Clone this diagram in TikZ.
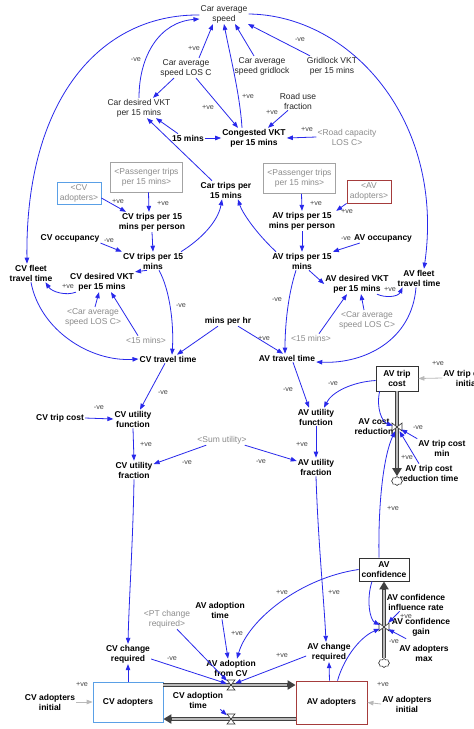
\documentclass[tikz,border=0pt]{standalone}
\usepackage{fontspec}
\setmainfont{Liberation Sans}
\usetikzlibrary{arrows.meta,shapes.symbols,calc}
\definecolor{lnkblue}{RGB}{40,40,235}
\definecolor{polgray}{RGB}{70,70,70}
\definecolor{shgray}{RGB}{140,140,140}
\definecolor{cvblue}{RGB}{90,160,230}
\definecolor{avred}{RGB}{165,60,60}
\newcommand\vfs{\fontsize{8.5}{10}\selectfont}
\newcommand\pfs{\fontsize{7.2}{8}\selectfont}
\newcommand\myvalveH[1]{\draw[vlv] ([xshift=-4pt,yshift=5pt]#1.center) -- ([xshift=4pt,yshift=5pt]#1.center) -- ([xshift=-4pt,yshift=-5pt]#1.center) -- ([xshift=4pt,yshift=-5pt]#1.center) -- cycle;}
\newcommand\myvalveV[1]{\draw[vlv] ([xshift=-5pt,yshift=4pt]#1.center) -- ([xshift=-5pt,yshift=-4pt]#1.center) -- ([xshift=5pt,yshift=4pt]#1.center) -- ([xshift=5pt,yshift=-4pt]#1.center) -- cycle;}
\begin{document}
\begin{tikzpicture}[x=1pt,y=-1pt,
 var/.style={align=center,font=\vfs,text=black!85,inner sep=1pt},
 varb/.style={align=center,font=\vfs\bfseries,text=black,inner sep=1pt},
 shd/.style={align=center,font=\vfs,text=shgray,inner sep=1pt},
 shdbox/.style={shd,draw=shgray!80,line width=0.8pt,minimum width=72pt,minimum height=30pt},
 stockbox/.style={varb,draw=black!80,line width=0.8pt,fill=white},
 lnk/.style={draw=lnkblue,line width=0.8pt,-{Triangle[length=6pt,width=4.5pt]}},
 glnk/.style={draw=gray!55,line width=0.8pt,-{Triangle[length=6pt,width=4.5pt]}},
 pol/.style={font=\pfs,text=polgray,inner sep=0pt},
 flowpipe/.style={line width=4.2pt,draw=black!75,-{Triangle[length=8pt,width=9pt]},postaction={draw=gray!55,line width=2.4pt,arrows=-,shorten >=8.5pt}},
 vlv/.style={draw=black!80,line width=0.6pt,fill=white},
 vnode/.style={minimum width=8pt,minimum height=8pt,inner sep=0pt},
 cloudnode/.style={cloud,draw=black!80,fill=white,cloud puffs=8,aspect=1.2,minimum width=11pt,minimum height=9pt,inner sep=0pt,line width=0.6pt}
]
\fill[white] (0,0) rectangle (474,729);
\useasboundingbox (0,0) rectangle (474,729);

% ---------- variables ----------
\node[var] (cas) at (224,14) {Car average\\speed};
\node[var] (caslos) at (186,68) {Car average\\speed LOS C};
\node[var] (casg) at (262,66) {Car average\\speed gridlock};
\node[var] (gvkt) at (332,66) {Gridlock VKT\\per 15 mins};
\node[var] (cdvkt) at (139,108) {Car desired VKT\\per 15 mins};
\node[var] (ruf) at (298,101) {Road use\\fraction};
\node[varb] (cong) at (254,138) {Congested VKT\\per 15 mins};
\node[varb] (m15) at (188,138) {15 mins};
\node[shd] (rcap) at (347,137) {<Road capacity\\LOS C>};
\node[shdbox] (ptl) at (146.5,177) {<Passenger trips\\per 15 mins>};
\node[shdbox] (ptr) at (299.5,178.5) {<Passenger trips\\per 15 mins>};
\node[varb] (ctrip) at (226,190) {Car trips per\\15 mins};
\node[shd,draw=avred,line width=0.8pt,minimum width=44pt,minimum height=23pt] (avad) at (369,191.5) {<AV\\adopters>};
\node[shd,draw=cvblue,line width=0.8pt,minimum width=44pt,minimum height=22pt] (cvad) at (79,193) {<CV\\adopters>};
\node[varb] (cvtpp) at (152,222) {CV trips per 15\\mins per person};
\node[varb] (cvocc) at (70,238) {CV occupancy};
\node[varb] (cvt) at (153,261) {CV trips per 15\\mins};
\node[varb] (cvflt) at (31,273) {CV fleet\\travel time};
\node[varb] (cvdv) at (102,282) {CV desired VKT\\per 15 mins};
\node[shd] (cslosl) at (93,317) {<Car average\\speed LOS C>};
\node[shd] (m15l) at (146,340) {<15 mins>};
\node[varb] (mph) at (228,321) {mins per hr};
\node[varb] (cvtt) at (168,359) {CV travel time};
\node[varb] (avtt) at (287,358) {AV travel time};
\node[varb] (avtpp) at (302,221) {AV trips per 15\\mins per person};
\node[varb] (avocc) at (383,238) {AV occupancy};
\node[varb] (avt) at (302,261) {AV trips per 15\\mins};
\node[varb] (avdv) at (357,284) {AV desired VKT\\per 15 mins};
\node[varb] (avflt) at (419,278) {AV fleet\\travel time};
\node[shd] (cslosr) at (367,320) {<Car average\\speed LOS C>};
\node[shd] (m15r) at (311,338) {<15 mins>};
\node[stockbox,minimum width=42pt,minimum height=25pt] (avtc) at (397,378.5) {AV trip\\cost};
\node[varb] (avti) at (467,378) {AV trip cost\\initial};
\node[varb] (avcr) at (374,427) {AV cost\\reduction};
\node[varb] (avtcm) at (442,448) {AV trip cost\\min};
\node[varb] (avtcrt) at (429,473) {AV trip cost\\reduction time};
\node[varb] (avuf) at (316,417) {AV utility\\function};
\node[varb] (avufr) at (316,467) {AV utility\\fraction};
\node[varb] (cvtc) at (60,418) {CV trip cost};
\node[varb] (cvuf) at (133,419) {CV utility\\function};
\node[varb] (cvufr) at (134,470) {CV utility\\fraction};
\node[shd] (sumu) at (222,440) {<Sum utility>};
\node[stockbox,minimum width=50pt,minimum height=23pt] (avconf) at (384,569.5) {AV\\confidence};
\node[varb] (avcir) at (416,602) {AV confidence\\influence rate};
\node[varb] (avcg) at (421,627) {AV confidence\\gain};
\node[varb] (avam) at (424,653) {AV adopters\\max};
\node[varb] (cvcr) at (128,654) {CV change\\required};
\node[shd] (ptcr) at (167,619) {<PT change\\required>};
\node[varb] (avat) at (220,610) {AV adoption\\time};
\node[varb] (avafc) at (231,668) {AV adoption\\from CV};
\node[varb] (avcreq) at (329,652) {AV change\\required};
\node[varb,draw=cvblue,line width=0.8pt,minimum width=70pt,minimum height=40pt] (cvadopt) at (128,702) {CV adopters};
\node[varb,draw=avred,line width=0.8pt,minimum width=71pt,minimum height=43pt] (avadopt) at (331.5,702.5) {AV adopters};
\node[varb] (cvat) at (198,700) {CV adoption\\time};
\node[varb] (cvai) at (50,702) {CV adopters\\initial};
\node[varb] (avai) at (407,704) {AV adopters\\initial};

% ---------- clouds and valves ----------
\node[cloudnode] (cl1) at (397,481) {};
\node[cloudnode] (cl2) at (384,663) {};
\node[vnode] (vtop) at (231,685) {};
\node[vnode] (vbot) at (231,719) {};
\node[vnode] (vcost) at (397,427) {};
\node[vnode] (vconf) at (384,627) {};

% ---------- pipes ----------
\draw[flowpipe] (cvadopt.east |- vtop) -- (avadopt.west |- vtop);
\draw[flowpipe] (avadopt.west |- vbot) -- (cvadopt.east |- vbot);
\draw[flowpipe] (avtc.south) -- (avtc.south |- cl1.north);
\draw[flowpipe] (cl2.north) -- (avconf.south);
\myvalveH{vtop}
\myvalveH{vbot}
\myvalveV{vcost}
\myvalveV{vconf}

% ---------- links ----------
\draw[lnk] ([xshift=13pt]caslos.north) -- ([xshift=-11pt]cas.south);
\draw[lnk] ([xshift=-12pt]cong.north) .. controls (240,95) and (230,55) .. (cas.south);
\draw[lnk] ([xshift=-8pt]casg.north) -- ([xshift=11pt]cas.south);
\draw[lnk] ([xshift=-22pt]gvkt.north) -- ([xshift=24pt]cas.south);
\draw[lnk] (cdvkt.north) .. controls (139,55) and (160,22) .. ([yshift=-5pt]cas.west);
\draw[lnk] ([yshift=-1pt]cas.west) .. controls (100,14) and (25,100) .. ([xshift=-4pt]cvflt.north);
\draw[lnk] (cas.east) .. controls (350,15) and (445,120) .. ([xshift=5pt]avflt.north);
\draw[lnk] ([xshift=-12pt]caslos.south) -- ([xshift=14pt]cdvkt.north);
\draw[lnk] ([xshift=10pt]caslos.south) -- ([xshift=-16pt]cong.north);
\draw[lnk] ([xshift=-10pt]m15.north) -- ([xshift=17pt]cdvkt.south);
\draw[lnk] (m15.east) -- (cong.west);
\draw[lnk] ([xshift=-10pt]ruf.south) -- ([xshift=14pt]cong.north);
\draw[lnk] (rcap.west) -- (cong.east);
\draw[lnk] ([xshift=-14pt]ctrip.north) -- ([xshift=8pt]cdvkt.south);
\draw[lnk] ([xshift=28pt]cvt.north) .. controls (200,240) and (218,222) .. ([xshift=-4pt]ctrip.south);
\draw[lnk] ([xshift=-26pt]avt.north) .. controls (255,232) and (242,212) .. ([xshift=12pt]ctrip.south);
\draw[lnk] ([xshift=2pt]ptl.south) -- ([xshift=-3pt]cvtpp.north);
\draw[lnk] ([yshift=-5pt]cvad.east) -- ([xshift=-26pt]cvtpp.north);
\draw[lnk] (cvtpp.south) -- (cvt.north);
\draw[lnk] (cvocc.south east) -- (cvt.north west);
\draw[lnk] ([xshift=-6pt]cvt.south) -- (cvdv.north east);
\draw[lnk] ([xshift=7pt]cvdv.south west) .. controls (66,296) and (52,292) .. ([xshift=-8pt]cvflt.south east);
\draw[lnk] ([xshift=2pt]cslosl.north) -- ([xshift=-3pt]cvdv.south);
\draw[lnk] ([xshift=-8pt]m15l.north) -- ([xshift=9pt]cvdv.south);
\draw[lnk] ([xshift=6pt]cvt.south) .. controls (170,290) and (174,325) .. ([xshift=4pt]cvtt.north);
\draw[lnk] (cvflt.south) .. controls (40,330) and (90,362) .. (cvtt.west);
\draw[lnk] ([xshift=-10pt]mph.south) -- ([xshift=9pt]cvtt.north);
\draw[lnk] ([xshift=10pt]mph.south) -- ([xshift=-4pt]avtt.north);
\draw[lnk] ([xshift=-6pt]avt.south) .. controls (288,295) and (285,325) .. ([xshift=-2pt]avtt.north);
\draw[lnk] ([xshift=-3pt]avflt.south) .. controls (412,340) and (365,364) .. ([yshift=-4pt]avtt.east);
\draw[lnk] ([xshift=2pt]ptr.south) -- (avtpp.north);
\draw[lnk] (avad.south west) -- (avtpp.north east);
\draw[lnk] (avtpp.south) -- (avt.north);
\draw[lnk] ([xshift=7pt]avocc.south west) -- (avt.north east);
\draw[lnk] ([xshift=7pt]avt.south) -- (avdv.west);
\draw[lnk] ([xshift=20pt]avdv.south) .. controls (385,298) and (398,297) .. ([xshift=6pt]avflt.south west);
\draw[lnk] ([xshift=-3pt]cslosr.north) -- ([xshift=4pt]avdv.south);
\draw[lnk] ([xshift=8pt]m15r.north) -- ([xshift=-10pt]avdv.south);
\draw[lnk] ([xshift=6pt]avtt.south) -- ([xshift=-7pt]avuf.north);
\draw[lnk] ([xshift=-3pt]cvtt.south) -- ([xshift=7pt]cvuf.north);
\draw[lnk] (cvtc.east) -- (cvuf.west);
\draw[lnk] (cvuf.south) -- (cvufr.north);
\draw[lnk] ([xshift=10pt]sumu.south west) -- ([yshift=6pt]cvufr.east);
\draw[lnk] ([xshift=-3pt]sumu.south east) -- ([yshift=6pt]avufr.west);
\draw[lnk] (avuf.south) -- (avufr.north);
\draw[lnk] ([yshift=-2pt]avtc.west) .. controls (352,382) and (332,392) .. ([xshift=8pt]avuf.north);
\draw[lnk] ([xshift=4pt]avtc.south west) .. controls (376,408) and (382,422) .. (vcost);
\draw[lnk] (avtcm.north west) -- (vcost);
\draw[lnk] ([xshift=-10pt]avtcrt.north) -- (vcost);
\draw[lnk] ([xshift=-5pt]avconf.north) .. controls (378,500) and (384,455) .. (vcost);
\draw[lnk] (avconf.west) .. controls (300,578) and (248,620) .. ([xshift=6pt]avafc.north);
\draw[lnk] (avufr.south) .. controls (318,540) and (324,600) .. ([xshift=-3pt]avcreq.north);
\draw[lnk] ([yshift=-4pt]avcreq.west) -- (vtop);
\draw[lnk] ([xshift=-2pt]avadopt.north) -- (avcreq.south);
\draw[lnk] ([xshift=6pt]avadopt.north) .. controls (345,655) and (362,636) .. (vconf);
\draw[lnk] ([xshift=8pt,yshift=5pt]avam.north west) -- (vconf);
\draw[lnk] ([xshift=14pt]avcir.south west) -- (vconf);
\draw[lnk] ([xshift=-12pt]avconf.south) .. controls (366,600) and (370,620) .. (vconf);
\draw[lnk] ([yshift=-5pt]cvcr.east) -- (vtop);
\draw[lnk] ([xshift=10pt]ptcr.south) -- (vtop);
\draw[lnk] ([xshift=2pt]avat.south) -- ([xshift=-3pt]avafc.north);
\draw[lnk] (cvadopt.north) -- (cvcr.south);
\draw[lnk] (cvufr.south) .. controls (133,540) and (129,600) .. (cvcr.north);
\draw[lnk] ([xshift=-4pt]cvat.south east) -- (vbot);
\draw[glnk] (cvai.east) -- (cvadopt.west);
\draw[glnk] (avai.west) -- (avadopt.east);
\draw[glnk] (avti.west) -- (avtc.east);

% ---------- polarities ----------
\node[pol] (p1) at (194,48) {+ve};
\node[pol] (p2) at (136,60) {-ve};
\node[pol] (p3) at (300,40) {-ve};
\node[pol] (p4) at (208,107) {+ve};
\node[pol] (p5) at (248,96) {+ve};
\node[pol] (p6) at (272,112) {+ve};
\node[pol] (p7) at (307,129) {+ve};
\node[pol] (p8) at (118,201) {+ve};
\node[pol] (p9) at (163,203) {+ve};
\node[pol] (p10) at (316,203) {+ve};
\node[pol] (p11) at (347,211) {+ve};
\node[pol] (p12) at (109,241) {-ve};
\node[pol] (p13) at (346,239) {-ve};
\node[pol] (p14) at (68,286) {+ve};
\node[pol] (p15) at (390,289) {+ve};
\node[pol] (p16) at (181,306) {-ve};
\node[pol] (p17) at (277,300) {-ve};
\node[pol] (p18) at (264,338) {+ve};
\node[pol] (p19) at (438,363) {+ve};
\node[pol] (p20) at (333,384) {-ve};
\node[pol] (p21) at (288,390) {-ve};
\node[pol] (p22) at (163,393) {-ve};
\node[pol] (p23) at (99,408) {-ve};
\node[pol] (p24) at (418,428) {-ve};
\node[pol] (p25) at (407,457) {+ve};
\node[pol] (p26) at (146,444) {+ve};
\node[pol] (p27) at (187,463) {-ve};
\node[pol] (p28) at (302,444) {+ve};
\node[pol] (p29) at (261,462) {-ve};
\node[pol] (p30) at (393,508) {+ve};
\node[pol] (p31) at (282,592) {+ve};
\node[pol] (p32) at (334,592) {+ve};
\node[pol] (p33) at (237,633) {+ve};
\node[pol] (p34) at (406,616) {+ve};
\node[pol] (p35) at (394,642) {-ve};
\node[pol] (p36) at (172,659) {-ve};
\node[pol] (p37) at (282,655) {+ve};
\node[pol] (p38) at (82,684) {+ve};
\node[pol] (p39) at (383,684) {+ve};
\end{tikzpicture}
\end{document}
